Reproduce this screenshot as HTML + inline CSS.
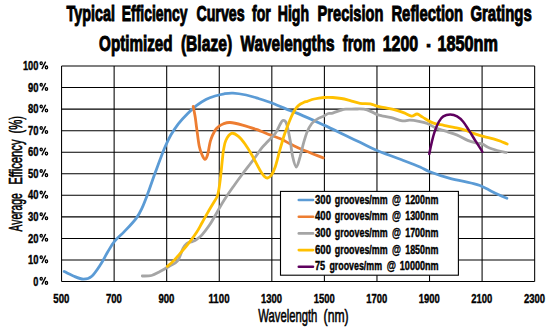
<!DOCTYPE html>
<html><head><meta charset="utf-8"><style>
html,body{margin:0;padding:0;background:#fff;width:550px;height:327px;overflow:hidden}
svg{display:block}
text{font-family:"Liberation Sans",sans-serif;font-weight:bold;fill:#000}
.tt{stroke:#000;stroke-width:1.0}
.lb{stroke:#000;stroke-width:0.4}
.ax text{font-weight:normal;stroke:#000;stroke-width:0.6}
</style></head><body>
<svg width="550" height="327" viewBox="0 0 550 327">
<rect width="550" height="327" fill="#fff"/>
<g class="tt">
<text x="66.60" y="20.70" font-size="22" text-anchor="start" textLength="48.41" lengthAdjust="spacingAndGlyphs" >Typical</text><text x="121.80" y="20.70" font-size="22" text-anchor="start" textLength="65.81" lengthAdjust="spacingAndGlyphs" >Efficiency</text><text x="196.40" y="20.70" font-size="22" text-anchor="start" textLength="48.21" lengthAdjust="spacingAndGlyphs" >Curves</text><text x="252.00" y="20.70" font-size="22" text-anchor="start" textLength="18.74" lengthAdjust="spacingAndGlyphs" >for</text><text x="277.80" y="20.70" font-size="22" text-anchor="start" textLength="31.21" lengthAdjust="spacingAndGlyphs" >High</text><text x="317.60" y="20.70" font-size="22" text-anchor="start" textLength="65.81" lengthAdjust="spacingAndGlyphs" >Precision</text><text x="391.40" y="20.70" font-size="22" text-anchor="start" textLength="71.80" lengthAdjust="spacingAndGlyphs" >Reflection</text><text x="470.40" y="20.70" font-size="22" text-anchor="start" textLength="61.41" lengthAdjust="spacingAndGlyphs" >Gratings</text><text x="99.10" y="51.00" font-size="22" text-anchor="start" textLength="73.40" lengthAdjust="spacingAndGlyphs" >Optimized</text><text x="180.90" y="51.00" font-size="22" text-anchor="start" textLength="51.20" lengthAdjust="spacingAndGlyphs" >(Blaze)</text><text x="240.50" y="51.00" font-size="22" text-anchor="start" textLength="94.03" lengthAdjust="spacingAndGlyphs" >Wavelengths</text><text x="342.80" y="51.00" font-size="22" text-anchor="start" textLength="32.46" lengthAdjust="spacingAndGlyphs" >from</text><text x="382.70" y="51.00" font-size="22" text-anchor="start" textLength="35.41" lengthAdjust="spacingAndGlyphs" >1200</text><text x="426.50" y="51.00" font-size="22" text-anchor="start" textLength="4.10" lengthAdjust="spacingAndGlyphs" >-</text><text x="437.40" y="51.00" font-size="22" text-anchor="start" textLength="60.41" lengthAdjust="spacingAndGlyphs" >1850nm</text>
</g>
<g stroke="#000" stroke-width="1.05" fill="none"><line x1="61.56" y1="66.00" x2="61.56" y2="281.50"/><line x1="114.13" y1="66.00" x2="114.13" y2="281.50"/><line x1="166.69" y1="66.00" x2="166.69" y2="281.50"/><line x1="219.26" y1="66.00" x2="219.26" y2="281.50"/><line x1="271.83" y1="66.00" x2="271.83" y2="281.50"/><line x1="324.39" y1="66.00" x2="324.39" y2="281.50"/><line x1="376.96" y1="66.00" x2="376.96" y2="281.50"/><line x1="429.53" y1="66.00" x2="429.53" y2="281.50"/><line x1="482.09" y1="66.00" x2="482.09" y2="281.50"/><line x1="534.66" y1="66.00" x2="534.66" y2="281.50"/><line x1="61.56" y1="281.50" x2="534.66" y2="281.50"/><line x1="61.56" y1="259.95" x2="534.66" y2="259.95"/><line x1="61.56" y1="238.40" x2="534.66" y2="238.40"/><line x1="61.56" y1="216.85" x2="534.66" y2="216.85"/><line x1="61.56" y1="195.30" x2="534.66" y2="195.30"/><line x1="61.56" y1="173.75" x2="534.66" y2="173.75"/><line x1="61.56" y1="152.20" x2="534.66" y2="152.20"/><line x1="61.56" y1="130.65" x2="534.66" y2="130.65"/><line x1="61.56" y1="109.10" x2="534.66" y2="109.10"/><line x1="61.56" y1="87.55" x2="534.66" y2="87.55"/><line x1="61.56" y1="66.00" x2="534.66" y2="66.00"/></g>
<g class="lb"><text x="33.30" y="285.60" font-size="12.5" text-anchor="start" textLength="5.10" lengthAdjust="spacingAndGlyphs" >0</text><g fill="none" stroke="#000"><ellipse cx="41.2" cy="278.80" rx="1.1" ry="1.35" stroke-width="1.3"/><ellipse cx="46.45" cy="282.90" rx="1.15" ry="1.4" stroke-width="1.3"/><line x1="45.6" y1="277.10" x2="41.9" y2="284.50" stroke-width="1.4"/></g><text x="27.90" y="264.05" font-size="12.5" text-anchor="start" textLength="10.50" lengthAdjust="spacingAndGlyphs" >10</text><g fill="none" stroke="#000"><ellipse cx="41.2" cy="257.25" rx="1.1" ry="1.35" stroke-width="1.3"/><ellipse cx="46.45" cy="261.35" rx="1.15" ry="1.4" stroke-width="1.3"/><line x1="45.6" y1="255.55" x2="41.9" y2="262.95" stroke-width="1.4"/></g><text x="27.90" y="242.50" font-size="12.5" text-anchor="start" textLength="10.50" lengthAdjust="spacingAndGlyphs" >20</text><g fill="none" stroke="#000"><ellipse cx="41.2" cy="235.70" rx="1.1" ry="1.35" stroke-width="1.3"/><ellipse cx="46.45" cy="239.80" rx="1.15" ry="1.4" stroke-width="1.3"/><line x1="45.6" y1="234.00" x2="41.9" y2="241.40" stroke-width="1.4"/></g><text x="27.90" y="220.95" font-size="12.5" text-anchor="start" textLength="10.50" lengthAdjust="spacingAndGlyphs" >30</text><g fill="none" stroke="#000"><ellipse cx="41.2" cy="214.15" rx="1.1" ry="1.35" stroke-width="1.3"/><ellipse cx="46.45" cy="218.25" rx="1.15" ry="1.4" stroke-width="1.3"/><line x1="45.6" y1="212.45" x2="41.9" y2="219.85" stroke-width="1.4"/></g><text x="27.90" y="199.40" font-size="12.5" text-anchor="start" textLength="10.50" lengthAdjust="spacingAndGlyphs" >40</text><g fill="none" stroke="#000"><ellipse cx="41.2" cy="192.60" rx="1.1" ry="1.35" stroke-width="1.3"/><ellipse cx="46.45" cy="196.70" rx="1.15" ry="1.4" stroke-width="1.3"/><line x1="45.6" y1="190.90" x2="41.9" y2="198.30" stroke-width="1.4"/></g><text x="27.90" y="177.85" font-size="12.5" text-anchor="start" textLength="10.50" lengthAdjust="spacingAndGlyphs" >50</text><g fill="none" stroke="#000"><ellipse cx="41.2" cy="171.05" rx="1.1" ry="1.35" stroke-width="1.3"/><ellipse cx="46.45" cy="175.15" rx="1.15" ry="1.4" stroke-width="1.3"/><line x1="45.6" y1="169.35" x2="41.9" y2="176.75" stroke-width="1.4"/></g><text x="27.90" y="156.30" font-size="12.5" text-anchor="start" textLength="10.50" lengthAdjust="spacingAndGlyphs" >60</text><g fill="none" stroke="#000"><ellipse cx="41.2" cy="149.50" rx="1.1" ry="1.35" stroke-width="1.3"/><ellipse cx="46.45" cy="153.60" rx="1.15" ry="1.4" stroke-width="1.3"/><line x1="45.6" y1="147.80" x2="41.9" y2="155.20" stroke-width="1.4"/></g><text x="27.90" y="134.75" font-size="12.5" text-anchor="start" textLength="10.50" lengthAdjust="spacingAndGlyphs" >70</text><g fill="none" stroke="#000"><ellipse cx="41.2" cy="127.95" rx="1.1" ry="1.35" stroke-width="1.3"/><ellipse cx="46.45" cy="132.05" rx="1.15" ry="1.4" stroke-width="1.3"/><line x1="45.6" y1="126.25" x2="41.9" y2="133.65" stroke-width="1.4"/></g><text x="27.90" y="113.20" font-size="12.5" text-anchor="start" textLength="10.50" lengthAdjust="spacingAndGlyphs" >80</text><g fill="none" stroke="#000"><ellipse cx="41.2" cy="106.40" rx="1.1" ry="1.35" stroke-width="1.3"/><ellipse cx="46.45" cy="110.50" rx="1.15" ry="1.4" stroke-width="1.3"/><line x1="45.6" y1="104.70" x2="41.9" y2="112.10" stroke-width="1.4"/></g><text x="27.90" y="91.65" font-size="12.5" text-anchor="start" textLength="10.50" lengthAdjust="spacingAndGlyphs" >90</text><g fill="none" stroke="#000"><ellipse cx="41.2" cy="84.85" rx="1.1" ry="1.35" stroke-width="1.3"/><ellipse cx="46.45" cy="88.95" rx="1.15" ry="1.4" stroke-width="1.3"/><line x1="45.6" y1="83.15" x2="41.9" y2="90.55" stroke-width="1.4"/></g><text x="22.90" y="70.10" font-size="12.5" text-anchor="start" textLength="15.50" lengthAdjust="spacingAndGlyphs" >100</text><g fill="none" stroke="#000"><ellipse cx="41.2" cy="63.30" rx="1.1" ry="1.35" stroke-width="1.3"/><ellipse cx="46.45" cy="67.40" rx="1.15" ry="1.4" stroke-width="1.3"/><line x1="45.6" y1="61.60" x2="41.9" y2="69.00" stroke-width="1.4"/></g><text x="53.31" y="303.00" font-size="12.5" text-anchor="start" textLength="16.03" lengthAdjust="spacingAndGlyphs" >500</text><text x="105.88" y="303.00" font-size="12.5" text-anchor="start" textLength="16.03" lengthAdjust="spacingAndGlyphs" >700</text><text x="158.44" y="303.00" font-size="12.5" text-anchor="start" textLength="16.03" lengthAdjust="spacingAndGlyphs" >900</text><text x="208.51" y="303.00" font-size="12.5" text-anchor="start" textLength="21.02" lengthAdjust="spacingAndGlyphs" >1100</text><text x="261.08" y="303.00" font-size="12.5" text-anchor="start" textLength="21.02" lengthAdjust="spacingAndGlyphs" >1300</text><text x="313.64" y="303.00" font-size="12.5" text-anchor="start" textLength="21.02" lengthAdjust="spacingAndGlyphs" >1500</text><text x="366.21" y="303.00" font-size="12.5" text-anchor="start" textLength="21.02" lengthAdjust="spacingAndGlyphs" >1700</text><text x="418.78" y="303.00" font-size="12.5" text-anchor="start" textLength="21.02" lengthAdjust="spacingAndGlyphs" >1900</text><text x="471.34" y="303.00" font-size="12.5" text-anchor="start" textLength="21.02" lengthAdjust="spacingAndGlyphs" >2100</text><text x="523.91" y="303.00" font-size="12.5" text-anchor="start" textLength="21.02" lengthAdjust="spacingAndGlyphs" >2300</text></g>
<g class="ax"><text x="258.30" y="321.80" font-size="18.5" text-anchor="start" textLength="59.02" lengthAdjust="spacingAndGlyphs" >Wavelength</text><text x="323.60" y="321.80" font-size="18.5" text-anchor="start" textLength="25.02" lengthAdjust="spacingAndGlyphs" >(nm)</text>
<g transform="translate(22.4,231.4) rotate(-90)"><text x="0.00" y="0.00" font-size="18.5" text-anchor="start" textLength="38.00" lengthAdjust="spacingAndGlyphs" >Average</text><text x="46.60" y="0.00" font-size="18.5" text-anchor="start" textLength="45.41" lengthAdjust="spacingAndGlyphs" >Efficency</text><text x="97.80" y="0.00" font-size="18.5" text-anchor="start" textLength="17.62" lengthAdjust="spacingAndGlyphs" >(%)</text></g></g>
<g fill="none" stroke-width="2.8" stroke-linecap="round" stroke-linejoin="round">
<path d="M64.2,271.4 C65.7,272.2 70.2,274.7 73.4,276.0 C76.6,277.3 80.4,279.1 83.5,279.2 C86.6,279.2 88.9,278.8 91.8,276.3 C94.7,273.8 98.2,268.2 100.9,264.1 C103.6,260.0 105.5,255.6 107.8,251.8 C110.1,248.0 111.7,244.8 114.5,241.4 C117.3,238.0 120.9,235.2 124.5,231.4 C128.1,227.6 133.3,222.2 136.2,218.3 C139.1,214.4 140.1,212.2 142.0,208.1 C143.9,204.0 145.6,199.4 147.8,193.6 C150.0,187.8 152.2,180.9 155.0,173.3 C157.8,165.7 161.9,154.4 164.6,148.0 C167.3,141.6 168.7,138.8 171.0,134.8 C173.3,130.8 175.6,127.3 178.3,123.8 C181.1,120.3 184.4,116.8 187.5,113.7 C190.6,110.6 193.6,107.8 196.7,105.4 C199.8,103.0 202.8,101.0 205.9,99.4 C209.0,97.8 211.9,96.9 215.0,96.0 C218.1,95.1 221.2,94.3 224.2,93.8 C227.2,93.3 229.3,92.9 233.0,93.1 C236.7,93.3 242.3,94.2 246.2,95.0 C250.1,95.8 252.0,96.5 256.4,97.9 C260.8,99.3 266.8,101.1 272.4,103.2 C278.0,105.3 285.2,108.6 289.8,110.5 C294.4,112.4 294.3,112.0 300.0,114.4 C305.7,116.8 316.7,121.8 324.0,125.1 C331.3,128.4 337.6,131.6 343.6,134.5 C349.6,137.4 354.5,139.7 360.0,142.3 C365.5,144.9 370.0,147.5 376.4,150.2 C382.8,152.9 390.9,155.7 398.2,158.5 C405.5,161.3 414.9,164.8 420.0,167.0 C425.1,169.2 424.2,169.6 429.1,171.5 C434.0,173.4 442.1,176.3 449.1,178.2 C456.1,180.1 465.8,181.8 470.9,183.0 C476.0,184.2 477.0,184.3 480.0,185.5 C483.0,186.7 486.1,188.5 489.1,190.0 C492.1,191.5 495.2,193.1 498.2,194.5 C501.2,195.9 505.4,197.6 506.9,198.2" stroke="#5B9BD5"/>
<path d="M193.2,106.5 C193.5,108.2 194.6,113.3 195.2,117.0 C195.8,120.7 196.0,123.6 196.7,128.4 C197.4,133.2 198.3,141.6 199.2,146.0 C200.1,150.4 201.1,152.8 202.1,155.0 C203.1,157.2 204.0,159.3 204.9,159.3 C205.8,159.3 206.5,158.2 207.5,155.0 C208.5,151.8 209.4,144.1 210.7,140.0 C211.9,135.9 213.7,132.8 215.0,130.5 C216.3,128.2 217.4,127.6 218.7,126.5 C220.0,125.4 221.1,124.7 223.0,124.0 C224.9,123.3 226.8,122.3 230.0,122.5 C233.2,122.7 238.1,123.9 242.5,125.1 C246.9,126.2 251.7,127.8 256.3,129.4 C260.9,131.0 266.0,133.3 270.1,134.9 C274.2,136.5 277.6,137.5 281.1,139.1 C284.7,140.7 287.9,142.8 291.4,144.5 C294.9,146.2 296.8,147.3 302.1,149.5 C307.4,151.7 319.7,156.5 323.2,157.9" stroke="#ED7D31"/>
<path d="M142.3,276.0 C143.8,275.9 148.6,276.2 151.5,275.5 C154.4,274.8 157.1,273.1 160.0,271.6 C162.9,270.1 166.3,268.1 169.2,266.3 C172.1,264.5 175.2,264.0 177.5,261.0 C179.8,258.0 181.5,251.4 183.0,248.5 C184.5,245.6 185.2,244.7 186.7,243.5 C188.2,242.3 190.5,242.3 192.2,241.6 C193.9,240.9 195.2,240.4 196.8,239.3 C198.4,238.2 199.9,237.2 202.0,234.8 C204.1,232.4 206.8,229.2 209.5,225.1 C212.2,221.0 215.7,214.6 218.1,210.4 C220.5,206.2 221.7,203.9 224.2,200.0 C226.7,196.1 229.9,191.3 233.0,187.0 C236.1,182.7 238.8,178.9 242.5,174.0 C246.2,169.1 251.8,161.9 255.0,157.5 C258.2,153.1 259.8,150.4 262.0,147.7 C264.2,145.0 265.7,143.8 268.0,141.3 C270.3,138.9 273.6,135.8 275.6,133.0 C277.6,130.2 278.8,126.6 280.0,124.5 C281.2,122.4 281.9,120.6 283.0,120.4 C284.1,120.2 285.3,120.1 286.5,123.5 C287.7,126.9 289.2,135.2 290.2,140.6 C291.2,146.0 291.5,151.5 292.5,155.9 C293.5,160.3 295.0,166.9 296.3,167.0 C297.6,167.1 298.9,160.5 300.2,156.4 C301.4,152.3 302.6,146.3 303.8,142.2 C305.0,138.0 306.0,134.6 307.3,131.5 C308.6,128.4 310.2,125.6 311.8,123.5 C313.4,121.4 315.1,120.3 317.1,119.1 C319.1,117.8 322.1,116.9 324.0,116.0 C325.9,115.1 326.9,114.0 328.4,113.5 C329.8,113.0 330.2,113.8 332.7,113.1 C335.2,112.4 341.0,109.9 343.6,109.3 C346.2,108.7 346.2,109.2 348.2,109.2 C350.2,109.2 352.9,109.0 355.5,109.0 C358.1,109.0 361.3,108.8 363.9,109.2 C366.5,109.6 369.1,110.7 371.2,111.6 C373.3,112.5 374.9,113.7 376.7,114.4 C378.5,115.1 379.8,115.2 382.2,115.8 C384.6,116.3 388.0,116.9 391.4,117.7 C394.8,118.5 399.3,120.4 402.4,120.8 C405.4,121.2 406.9,120.1 409.7,120.2 C412.4,120.3 416.0,120.8 418.9,121.3 C421.8,121.8 424.4,122.3 427.3,123.5 C430.2,124.7 433.4,127.1 436.5,128.4 C439.6,129.7 442.3,130.1 445.7,131.2 C449.1,132.3 453.0,133.4 456.7,134.9 C460.4,136.4 464.3,139.0 467.7,140.4 C471.1,141.8 474.4,142.5 476.9,143.1 C479.3,143.7 480.6,143.3 482.4,144.0 C484.2,144.7 485.4,146.2 487.9,147.3 C490.3,148.4 494.1,149.6 497.1,150.5 C500.2,151.4 504.7,152.2 506.2,152.5" stroke="#A5A5A5"/>
<path d="M167.3,266.3 C168.4,265.4 171.5,263.0 173.8,260.6 C176.1,258.2 179.2,254.5 181.2,252.2 C183.2,249.8 184.5,248.3 186.0,246.5 C187.5,244.7 188.5,243.6 190.3,241.2 C192.1,238.8 194.8,235.1 196.8,232.0 C198.8,228.9 200.1,226.2 202.2,222.5 C204.3,218.8 207.2,213.4 209.2,210.0 C211.2,206.6 212.6,204.3 214.0,202.0 C215.4,199.7 216.5,198.5 217.4,195.9 C218.3,193.3 218.7,190.7 219.3,186.7 C219.9,182.7 220.6,176.6 221.1,172.0 C221.6,167.4 222.0,162.9 222.4,159.2 C222.8,155.5 222.9,153.1 223.5,150.0 C224.1,146.9 224.5,143.3 225.8,140.5 C227.1,137.7 229.4,134.1 231.5,133.4 C233.6,132.7 236.2,134.5 238.4,136.3 C240.7,138.1 242.8,140.9 245.0,144.0 C247.2,147.1 249.1,150.1 251.7,154.7 C254.3,159.3 258.6,167.8 260.7,171.4 C262.8,175.0 263.4,175.4 264.5,176.5 C265.6,177.6 266.4,178.2 267.5,178.0 C268.6,177.8 270.0,177.1 271.3,175.3 C272.6,173.5 273.8,171.1 275.2,167.0 C276.6,162.9 278.2,156.0 279.7,150.7 C281.2,145.4 282.8,139.6 284.2,135.3 C285.6,131.0 286.9,128.0 288.0,125.0 C289.1,122.0 290.0,119.8 291.0,117.5 C292.0,115.2 293.0,113.2 294.0,111.5 C295.0,109.8 295.9,108.2 297.0,107.0 C298.1,105.8 299.3,104.8 300.5,104.0 C301.7,103.2 302.9,102.8 304.0,102.3 C305.1,101.8 305.6,101.8 307.3,101.3 C309.0,100.8 311.4,99.6 314.2,99.0 C317.0,98.4 320.9,97.8 324.0,97.5 C327.1,97.2 329.8,97.3 332.7,97.5 C335.6,97.7 338.5,98.0 341.4,98.5 C344.3,99.0 347.1,99.8 350.2,100.6 C353.3,101.4 356.6,102.8 360.0,103.3 C363.4,103.8 367.5,103.4 370.3,103.9 C373.1,104.4 374.1,105.4 376.7,106.1 C379.3,106.8 382.8,107.3 385.9,107.9 C388.9,108.5 391.9,109.0 395.0,109.8 C398.1,110.6 401.4,111.8 404.2,112.9 C407.0,114.0 409.5,116.0 411.6,116.2 C413.8,116.4 415.3,113.8 417.1,114.0 C418.9,114.2 420.0,115.6 422.6,117.1 C425.2,118.6 429.2,121.5 432.8,122.9 C436.4,124.3 439.9,124.5 443.9,125.3 C447.9,126.1 453.0,127.1 456.7,127.9 C460.4,128.7 462.8,129.3 465.9,130.3 C468.9,131.3 471.9,132.8 475.0,133.9 C478.1,135.0 481.1,135.9 484.2,136.7 C487.3,137.5 490.6,138.1 493.4,138.9 C496.1,139.7 498.4,140.5 500.7,141.3 C503.0,142.2 506.1,143.6 507.2,144.0" stroke="#FFC000"/>
<path d="M429.3,153.9 C429.7,151.8 431.0,145.4 431.9,141.6 C432.8,137.8 433.8,134.2 434.9,130.9 C436.0,127.6 437.4,124.2 438.8,121.8 C440.2,119.4 441.4,117.6 443.3,116.4 C445.2,115.2 447.9,114.6 450.2,114.6 C452.5,114.6 454.9,115.2 457.1,116.4 C459.3,117.6 461.2,119.4 463.2,121.8 C465.2,124.2 467.2,127.7 469.3,130.9 C471.4,134.1 473.3,137.5 475.5,140.9 C477.7,144.3 481.2,149.8 482.3,151.6" stroke="#5E005E" stroke-width="2.5"/>
</g>
<rect x="280.5" y="191.4" width="177.9" height="83.8" fill="#fff" stroke="#000" stroke-width="1.1"/>
<g class="lb"><line x1="298.8" y1="200.00" x2="313" y2="200.00" stroke="#5B9BD5" stroke-width="2.6" stroke-linecap="round"/><text x="315.00" y="203.60" font-size="12.3" text-anchor="start" textLength="16.00" lengthAdjust="spacingAndGlyphs" >300</text><text x="334.80" y="203.60" font-size="12.3" text-anchor="start" textLength="52.81" lengthAdjust="spacingAndGlyphs" >grooves/mm</text><text x="392.10" y="203.60" font-size="12.3" text-anchor="start" textLength="9.00" lengthAdjust="spacingAndGlyphs" >@</text><text x="405.20" y="203.60" font-size="12.3" text-anchor="start" textLength="33.21" lengthAdjust="spacingAndGlyphs" >1200nm</text><line x1="298.8" y1="216.70" x2="313" y2="216.70" stroke="#ED7D31" stroke-width="2.6" stroke-linecap="round"/><text x="315.00" y="220.30" font-size="12.3" text-anchor="start" textLength="16.00" lengthAdjust="spacingAndGlyphs" >400</text><text x="334.80" y="220.30" font-size="12.3" text-anchor="start" textLength="52.81" lengthAdjust="spacingAndGlyphs" >grooves/mm</text><text x="392.10" y="220.30" font-size="12.3" text-anchor="start" textLength="9.00" lengthAdjust="spacingAndGlyphs" >@</text><text x="405.20" y="220.30" font-size="12.3" text-anchor="start" textLength="33.21" lengthAdjust="spacingAndGlyphs" >1300nm</text><line x1="298.8" y1="233.40" x2="313" y2="233.40" stroke="#A5A5A5" stroke-width="2.6" stroke-linecap="round"/><text x="315.00" y="237.00" font-size="12.3" text-anchor="start" textLength="16.00" lengthAdjust="spacingAndGlyphs" >300</text><text x="334.80" y="237.00" font-size="12.3" text-anchor="start" textLength="52.81" lengthAdjust="spacingAndGlyphs" >grooves/mm</text><text x="392.10" y="237.00" font-size="12.3" text-anchor="start" textLength="9.00" lengthAdjust="spacingAndGlyphs" >@</text><text x="405.20" y="237.00" font-size="12.3" text-anchor="start" textLength="33.21" lengthAdjust="spacingAndGlyphs" >1700nm</text><line x1="298.8" y1="250.10" x2="313" y2="250.10" stroke="#FFC000" stroke-width="2.6" stroke-linecap="round"/><text x="315.00" y="253.70" font-size="12.3" text-anchor="start" textLength="16.00" lengthAdjust="spacingAndGlyphs" >600</text><text x="334.80" y="253.70" font-size="12.3" text-anchor="start" textLength="52.81" lengthAdjust="spacingAndGlyphs" >grooves/mm</text><text x="392.10" y="253.70" font-size="12.3" text-anchor="start" textLength="9.00" lengthAdjust="spacingAndGlyphs" >@</text><text x="405.20" y="253.70" font-size="12.3" text-anchor="start" textLength="33.21" lengthAdjust="spacingAndGlyphs" >1850nm</text><line x1="298.8" y1="266.80" x2="313" y2="266.80" stroke="#5E005E" stroke-width="2.6" stroke-linecap="round"/><text x="315.00" y="270.40" font-size="12.3" text-anchor="start" textLength="10.23" lengthAdjust="spacingAndGlyphs" >75</text><text x="329.40" y="270.40" font-size="12.3" text-anchor="start" textLength="52.60" lengthAdjust="spacingAndGlyphs" >grooves/mm</text><text x="386.70" y="270.40" font-size="12.3" text-anchor="start" textLength="9.24" lengthAdjust="spacingAndGlyphs" >@</text><text x="399.80" y="270.40" font-size="12.3" text-anchor="start" textLength="38.81" lengthAdjust="spacingAndGlyphs" >10000nm</text></g>
</svg>
</body></html>
